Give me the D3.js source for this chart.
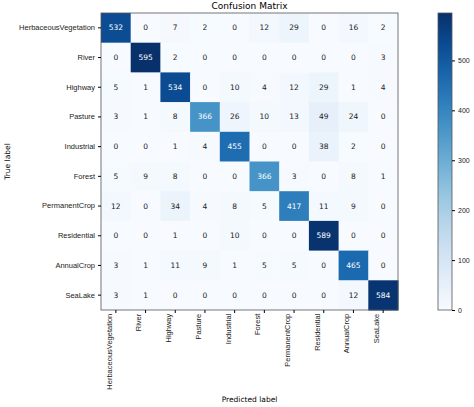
<!DOCTYPE html>
<html><head><meta charset="utf-8">
<script src="https://cdn.jsdelivr.net/npm/d3@7"></script>
<style>body{margin:0;background:#fff;font-family:"DejaVu Sans",sans-serif}</style>
</head><body><svg id="c" width="474" height="407"></svg>
<script>
const labels=["HerbaceousVegetation","River","Highway","Pasture","Industrial","Forest","PermanentCrop","Residential","AnnualCrop","SeaLake"];
const matrix=[
[532,0,7,2,0,12,29,0,16,2],
[0,595,2,0,0,0,0,0,0,3],
[5,1,534,0,10,4,12,29,1,4],
[3,1,8,366,26,10,13,49,24,0],
[0,0,1,4,455,0,0,38,2,0],
[5,9,8,0,0,366,3,0,8,1],
[12,0,34,4,8,5,417,11,9,0],
[0,0,1,0,10,0,0,589,0,0],
[3,1,11,9,1,5,5,0,465,0],
[3,1,0,0,0,0,0,0,12,584]];
const cbTicks=[0,100,200,300,400,500];
const svg=d3.select("#c");
const L=101,T=13,S=297;
const x=d3.scaleBand().domain(labels).range([L,L+S]);
const y=d3.scaleBand().domain(labels).range([T,T+S]);
const maxV=d3.max(matrix.flat());
const col=d3.scaleSequential(d3.interpolateBlues).domain([0,maxV]);
const cells=[];matrix.forEach((r,i)=>r.forEach((v,j)=>cells.push({i,j,v})));
svg.selectAll("rect.c").data(cells).join("rect").attr("x",d=>x(labels[d.j])).attr("y",d=>y(labels[d.i]))
 .attr("width",x.bandwidth()+0.5).attr("height",y.bandwidth()+0.5).attr("fill",d=>col(d.v));
svg.selectAll("text.v").data(cells).join("text").attr("x",d=>x(labels[d.j])+x.bandwidth()/2).attr("y",d=>y(labels[d.i])+y.bandwidth()/2)
 .attr("text-anchor","middle").attr("dominant-baseline","central").attr("font-size",7.5)
 .attr("fill",d=>d.v>maxV/2?"#fff":"#222").text(d=>d.v);
svg.append("rect").attr("x",L).attr("y",T).attr("width",S).attr("height",S).attr("fill","none").attr("stroke","#555").attr("stroke-width",0.8);
const ax=svg.append("g").attr("transform",`translate(0,${T+S})`).call(d3.axisBottom(x).tickSize(3));
ax.selectAll("text").attr("transform","rotate(-90)").attr("text-anchor","end").attr("dx","-0.5em").attr("dy","-0.55em").attr("x",0).attr("y",0).style("font-size","7.5px").attr("fill","#222");
ax.select(".domain").remove();
const ay=svg.append("g").attr("transform",`translate(${L},0)`).call(d3.axisLeft(y).tickSize(3));
ay.selectAll("text").style("font-size","7.5px").attr("fill","#222");ay.select(".domain").remove();
svg.append("text").attr("x",L+S/2).attr("y",9).attr("text-anchor","middle").attr("font-size",9).text("Confusion Matrix");
svg.append("text").attr("x",L+S/2).attr("y",402).attr("text-anchor","middle").attr("font-size",7.5).text("Predicted label");
svg.append("text").attr("transform",`translate(10,${T+S/2}) rotate(-90)`).attr("text-anchor","middle").attr("font-size",7.5).text("True label");
// colorbar
const cbx=438,cbw=14;
const cy=d3.scaleLinear().domain([0,maxV]).range([T+S,T]);
const defs=svg.append("defs");const g=defs.append("linearGradient").attr("id","g").attr("x1",0).attr("y1",1).attr("x2",0).attr("y2",0);
d3.range(0,1.001,0.1).forEach(t=>g.append("stop").attr("offset",t).attr("stop-color",d3.interpolateBlues(t)));
svg.append("rect").attr("x",cbx).attr("y",T).attr("width",cbw).attr("height",S).attr("fill","url(#g)").attr("stroke","#555").attr("stroke-width",0.8);
const ac=svg.append("g").attr("transform",`translate(${cbx+cbw},0)`).call(d3.axisRight(cy).tickValues(cbTicks).tickSize(3));
ac.selectAll("text").style("font-size","7px").attr("fill","#222");ac.select(".domain").remove();
</script></body></html>
